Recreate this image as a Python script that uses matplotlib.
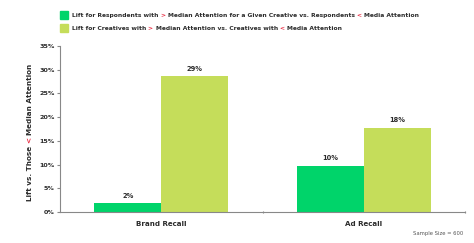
import numpy as np
import matplotlib
matplotlib.use("Agg")
import matplotlib.pyplot as plt
from matplotlib.patches import Rectangle

# data
categories = ["Brand Recall", "Ad Recall"]
respondents_lift = [1.9, 9.8]
creatives_lift = [28.7, 17.8]
respondents_labels = ["2%", "10%"]
creatives_labels = ["29%", "18%"]
y_ticks = [0, 5, 10, 15, 20, 25, 30, 35]

GREEN = "#00d46a"
LIME = "#c5dd5a"
RED = "#e8253d"
DARK = "#2b2b2b"

plt.rcParams["font.family"] = ["DejaVu Sans"]
plt.rcParams["font.weight"] = "bold"

fig = plt.figure(figsize=(4.74, 2.43), dpi=100)
ax = fig.add_axes([60 / 474, 1 - 212 / 243, 405 / 474, 166 / 243])

x = np.arange(len(categories))
w = 0.33
ax.bar(x - w / 2, respondents_lift, w, color=GREEN)
ax.bar(x + w / 2, creatives_lift, w, color=LIME)

for i in range(len(categories)):
    ax.annotate(respondents_labels[i], (x[i] - w / 2, respondents_lift[i]), xytext=(0, 3),
                textcoords="offset points", ha="center", va="bottom", fontsize=4.8, color=DARK)
    ax.annotate(creatives_labels[i], (x[i] + w / 2, creatives_lift[i]), xytext=(0, 3),
                textcoords="offset points", ha="center", va="bottom", fontsize=4.8, color=DARK)

ax.set_xlim(-0.5, 1.5)
ax.set_ylim(0, 35)
ax.set_yticks(y_ticks)
ax.set_yticklabels([f"{t}%" for t in y_ticks], fontsize=4.6, color=DARK)
ax.set_xticks([0.5, 1.5])
ax.set_xticklabels([])
ax.tick_params(axis="x", length=2, direction="inout", color="#888888")
ax.tick_params(axis="y", length=2, color="#888888", pad=2)
for i, c in enumerate(categories):
    ax.text(x[i], -1.9, c, ha="center", va="top", fontsize=5.1, color=DARK)

for s in ["top", "right"]:
    ax.spines[s].set_visible(False)
for s in ["left", "bottom"]:
    ax.spines[s].set_color("#888888")
    ax.spines[s].set_linewidth(0.8)


def draw_chain(parts, x0, y0, size, vertical=False):
    # draw text pieces one after the other, each in its own colour
    if vertical:
        t = fig.text(x0, y0, parts[0][0], color=parts[0][1], fontsize=size,
                     rotation=90, ha="center", va="bottom")
    else:
        t = fig.text(x0, y0, parts[0][0], color=parts[0][1], fontsize=size,
                     ha="left", va="center")
    for s, col in parts[1:]:
        if vertical:
            t = ax.annotate(s, xy=(0.5, 1), xycoords=t, color=col, fontsize=size,
                            rotation=90, ha="center", va="bottom", annotation_clip=False)
        else:
            t = ax.annotate(s, xy=(1, 0.5), xycoords=t, color=col, fontsize=size,
                            ha="left", va="center", annotation_clip=False)


# legend
fig.patches.append(Rectangle((60 / 474, 1 - 19 / 243), 8 / 474, 8 / 243,
                             transform=fig.transFigure, color=GREEN))
fig.patches.append(Rectangle((60 / 474, 1 - 32 / 243), 8 / 474, 8 / 243,
                             transform=fig.transFigure, color=LIME))
draw_chain([("Lift for Respondents with ", DARK), ("> ", RED),
            ("Median Attention for a Given Creative vs. Respondents ", DARK), ("< ", RED),
            ("Media Attention", DARK)], 72 / 474, 1 - 15 / 243, 4.3)
draw_chain([("Lift for Creatives with ", DARK), ("> ", RED),
            ("Median Attention vs. Creatives with ", DARK), ("< ", RED),
            ("Media Attention", DARK)], 72 / 474, 1 - 28 / 243, 4.3)

# y label
draw_chain([("Lift vs. Those ", DARK), ("< ", RED), ("Median Attention", DARK)],
           30 / 474, 1 - 201 / 243, 5.2, vertical=True)

fig.text(463 / 474, 1 - 233 / 243, "Sample Size = 600", fontsize=3.8, color="#555555",
         ha="right", va="center", fontweight="normal")

fig.savefig("out.png", dpi=100)
